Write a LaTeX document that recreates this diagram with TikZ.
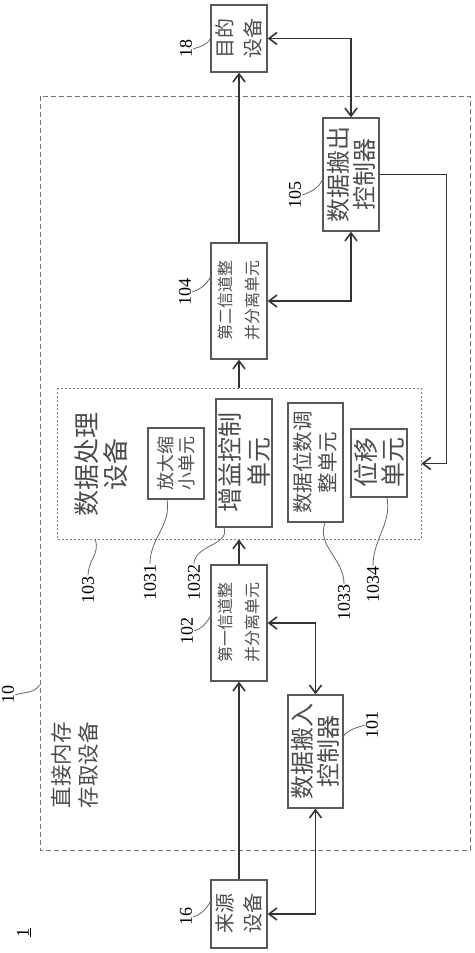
\documentclass[tikz,border=0pt]{standalone}
\usepackage{fontspec}
\setmainfont{Liberation Serif}
\newfontfamily\cjk{Noto Sans CJK SC}
\usetikzlibrary{positioning,arrows.meta}

\newcommand{\zh}[2]{\cjk\fontsize{#1}{#2}\selectfont}

\tikzset{
  unit/.style={draw=black!65, line width=1.3pt, inner sep=0pt, align=center, text=black!70},
  frame/.style={draw=black!55, line width=0.9pt, dash pattern=on 5pt off 3pt, inner sep=0pt},
  dotframe/.style={draw=black!50, line width=0.9pt, dash pattern=on 2pt off 2pt, inner sep=0pt},
  title/.style={align=center, inner sep=0pt, text=black!70},
  barb/.tip={Straight Barb[length=8pt,width=12pt]},
  link/.style={line width=1.6pt, draw=black!80, -barb},
  both/.style={line width=1.6pt, draw=black!80, barb-barb},
  leader/.style={draw=black!60, line width=0.8pt},
  num/.style={font=\fontsize{18}{18}\selectfont, text=black, inner sep=1pt}
}

\begin{document}
\begin{tikzpicture}[x=1pt,y=1pt]
        \begin{scope}[rotate=90,transform shape]
          \useasboundingbox (0,0) rectangle (953,-474);

          \draw (480,-255) node[frame, minimum width=754pt, minimum height=430pt] (n10) {};

          \draw (489.5,-239) node[dotframe, minimum width=151pt, minimum height=364pt] (n103) {};

          \draw (39,-239) node[unit, minimum width=68pt, minimum height=56pt,
          font=\zh{20}{28}] (n16) {来源\\设备};

          \draw (330,-239) node[unit, minimum width=116pt, minimum height=56pt,
          font=\zh{16}{27}] (n102) {第一信道整\\并分离单元};

          \draw (652,-239) node[unit, minimum width=116pt, minimum height=56pt,
          font=\zh{16}{27}] (n104) {第二信道整\\并分离单元};

          \draw (914.5,-239) node[unit, minimum width=67pt, minimum height=56pt,
          font=\zh{20}{28}] (n18) {目的\\设备};

          \draw (778.5,-351) node[unit, minimum width=113pt, minimum height=56pt,
          font=\zh{24}{26}] (n105) {数据搬出\\控制器};

          \draw (201.5,-315.5) node[unit, minimum width=113pt, minimum height=55pt,
          font=\zh{24}{26}] (n101) {数据搬入\\控制器};

          \draw (489.5,-176) node[unit, minimum width=71pt, minimum height=56pt,
          font=\zh{18}{21}] (n1031) {放大缩\\小单元};

          \draw (490,-244) node[unit, minimum width=128pt, minimum height=56pt,
          font=\zh{25}{29}] (n1032) {增益控制\\单元};

          \draw (490.5,-315.5) node[unit, minimum width=119pt, minimum height=55pt,
          font=\zh{20.5}{25}] (n1033) {数据位数调\\整单元};

          \draw (490,-379) node[unit, minimum width=68pt, minimum height=56pt,
          font=\zh{25}{27}] (n1034) {位移\\单元};

          \draw (488,-101.5) node[title, font=\zh{26}{29}] (t103) {数据处理\\设备};

          \draw (187.5,-75) node[title, font=\zh{21.5}{27}] (t10) {直接内存\\存取设备};

          \draw (20,-24) node[num] (l1) {\underline{1}};
          \draw (258,-8) node[num] (l10) {10};
          \draw (36,-186) node[num] (l16) {16};
          \draw (904,-186) node[num] (l18) {18};
          \draw (228,-372) node[num] (l101) {101};
          \draw (322,-187) node[num] (l102) {102};
          \draw (363,-88) node[num] (l103) {103};
          \draw (661,-185) node[num] (l104) {104};
          \draw (758,-295) node[num] (l105) {105};
          \draw (370,-150) node[num] (l1031) {1031};
          \draw (370,-194) node[num] (l1032) {1032};
          \draw (350,-344) node[num] (l1033) {1033};
          \draw (368,-373) node[num] (l1034) {1034};

          \draw[link] (n16) -- (n102);
          \draw[link] (n102) -- (n103);
          \draw[link] (n103) -- (n104);
          \draw[link] (n104) -- (n18);

          \draw[both] (n18.south) |- (n105.east);
          \draw[both] (n104.south) |- (n105.west);
          \draw[both] (n102.south) |- (n101.east);
          \draw[both] (n16.south) |- (n101.west);
          \draw[link] (n105.south) -- ++(0,-67) -| (n103.south);

          \draw[leader] (l10.south) to[out=-70,in=150] (n10.north -| l10.east);
          \draw[leader] (l16.south) to[out=-70,in=150] ([xshift=5pt]n16.north -| l16.east);
          \draw[leader] (l18.south) to[out=-70,in=150] (n18.north -| l18.east);
          \draw[leader] (l102.south) to[out=-70,in=150] (n102.north -| l102.east);
          \draw[leader] (l104.south) to[out=-70,in=150] (n104.north -| l104.east);
          \draw[leader] (l105.south) to[out=-70,in=150] (n105.north -| l105.east);
          \draw[leader] (l101.north) to[out=110,in=-40] ([xshift=4pt]n101.south -| l101.west);
          \draw[leader] (l103.east) to[out=0,in=200] (n103.west |- l103.south);
          \draw[leader] (l1031.east) to[out=0,in=190] ([yshift=9pt]n1031.west);
          \draw[leader] (l1032.east) to[out=0,in=200] ([yshift=20pt]n1032.west);
          \draw[leader] (l1033.east) to[out=0,in=160] ([yshift=-9.5pt]n1033.west);
          \draw[leader] (l1034.east) to[out=0,in=190] ([yshift=-8pt]n1034.west);
        \end{scope}
\end{tikzpicture}
\end{document}
